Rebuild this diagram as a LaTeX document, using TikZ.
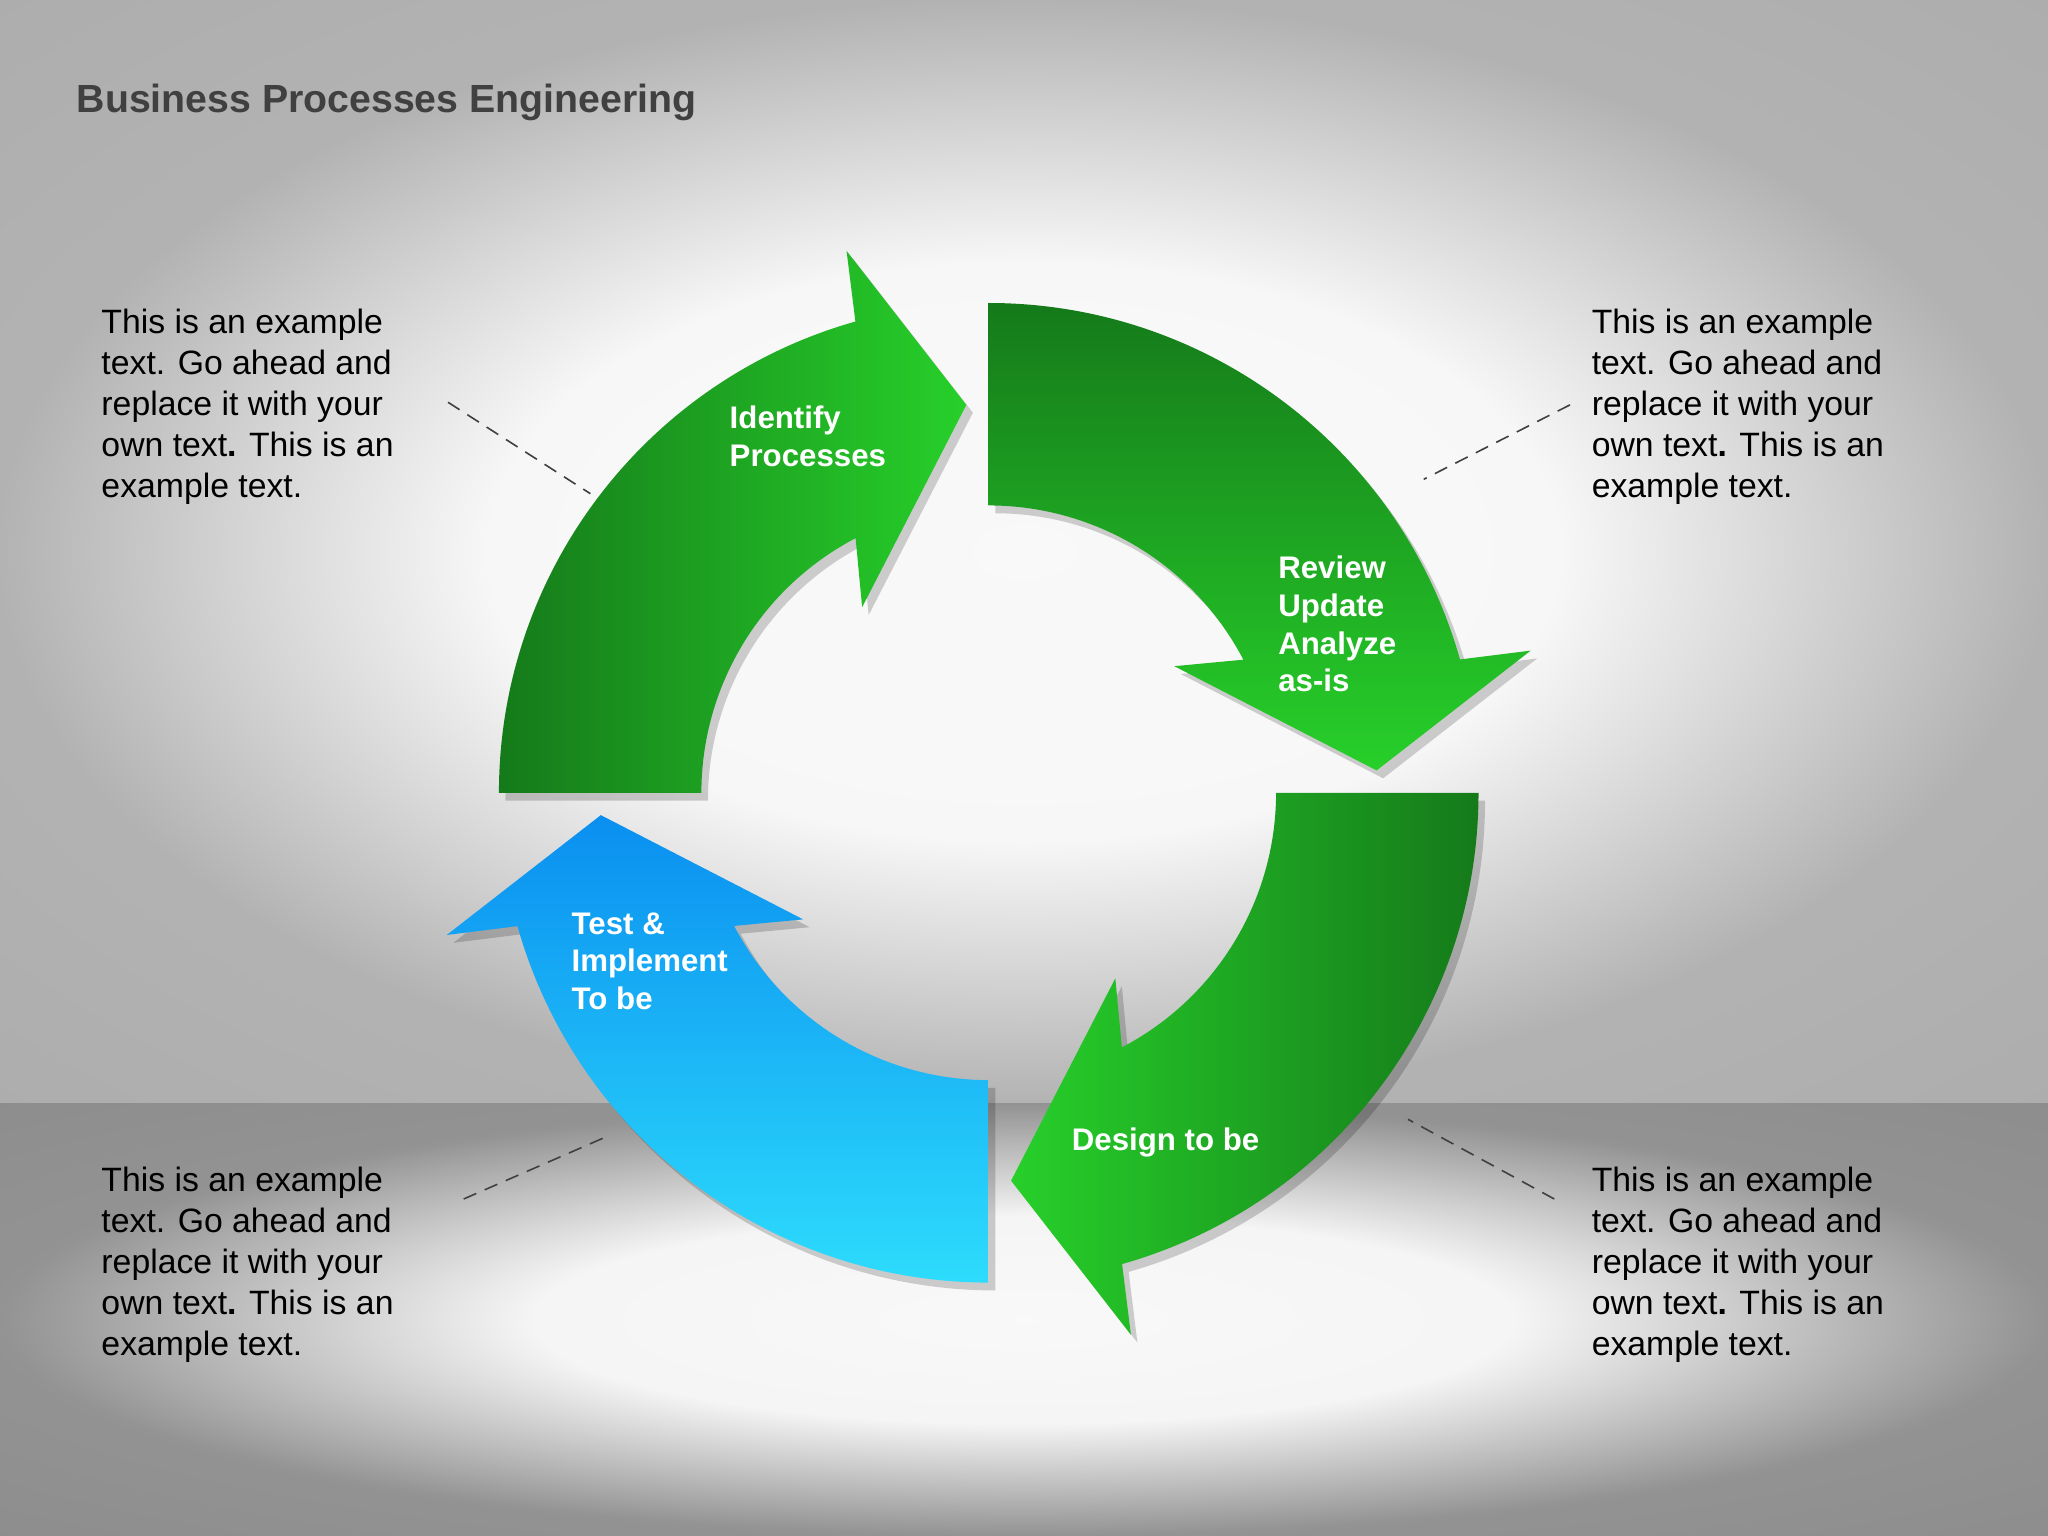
\documentclass[tikz,border=0pt]{standalone}
\usepackage{fontspec}
\setmainfont{Liberation Sans}
\usetikzlibrary{positioning}

\definecolor{gdark}{HTML}{157A1A}
\definecolor{glight}{HTML}{27D02A}
\definecolor{btop}{HTML}{0A8FF0}
\definecolor{bbot}{HTML}{2DDCFC}
\definecolor{titlegray}{HTML}{404040}

\pgfdeclareradialshading{upperglow}{\pgfpoint{0bp}{0bp}}{%
  color(0bp)=(white!95!gray); color(13bp)=(white!94!gray);
  color(25bp)=(gray!60); color(50bp)=(gray!70)}
\pgfdeclareradialshading{lowerglow}{\pgfpoint{0bp}{0bp}}{%
  color(0bp)=(white!95!gray); color(12bp)=(white!92!gray);
  color(25bp)=(gray!85); color(50bp)=(gray!95)}

\tikzset{%
  >=latex,
  steplabel/.style={text=white, font=\fontsize{6.8}{8.2}\selectfont\bfseries,
    align=left, anchor=west, inner sep=0pt},
  bodytext/.style={text=black, font=\fontsize{7.35}{8.9}\selectfont,
    align=left, anchor=north west, inner sep=0pt},
  leader/.style={densely dashed, line width=0.35pt, black!75}
}

% one arrow of the cycle, turned by #1 degrees
\newcommand{\cyclearrow}[1]{%
  ({180+#1}:375) arc[start angle={180+#1}, end angle={105.8+#1}, radius=375]
  -- ({104.7+#1}:429) -- ({93.3+#1}:297.5) -- ({124.3+#1}:172)
  -- ({117.6+#1}:220) arc[start angle={117.6+#1}, end angle={180+#1}, radius=220]
  -- cycle}

\begin{document}
\begin{tikzpicture}[x=0.01cm, y=0.01cm]
  % background
  \shade[shading=upperglow] (0,331) rectangle (1568,1176);
  \shade[shading=lowerglow] (0,0) rectangle (1568,331);
  \useasboundingbox (0,0) rectangle (1568,1176);

  \node[anchor=base west, inner sep=0pt, text=titlegray,
        font=\fontsize{8.55}{10}\selectfont\bfseries] (title) at (58,1090)
        {Business Processes Engineering};

  % shadows
  \foreach \o in {0,-90,-180,-270}
    \fill[black, opacity=0.18, shift={(762,563)}] \cyclearrow{\o};

  % arrows
  \shade[shift={(757,569)}, left color=gdark, right color=glight] \cyclearrow{0};
  \shade[shift={(757,569)}, top color=gdark, bottom color=glight] \cyclearrow{-90};
  \shade[shift={(757,569)}, right color=gdark, left color=glight] \cyclearrow{-180};
  \shade[shift={(757,569)}, top color=btop, bottom color=bbot] \cyclearrow{-270};

  \node[steplabel] (identify) at (558,842) {Identify\\Processes};
  \node[steplabel] (review) at (978,698) {Review\\Update\\Analyze\\as-is};
  \node[steplabel] (design) at (820,301) {Design to be};
  \node[steplabel] (test) at (437,440) {Test \&\\Implement\\To be};

  % side texts
  \node[bodytext] (textnw) at (77,940)
    {This is an example\\text. Go ahead and\\replace it with your\\own text\textbf{.} This is an\\example text.};
  \node[bodytext] (textne) at (1218,940)
    {This is an example\\text. Go ahead and\\replace it with your\\own text\textbf{.} This is an\\example text.};
  \node[bodytext] (textsw) at (77,283)
    {This is an example\\text. Go ahead and\\replace it with your\\own text\textbf{.} This is an\\example text.};
  \node[bodytext] (textse) at (1218,283)
    {This is an example\\text. Go ahead and\\replace it with your\\own text\textbf{.} This is an\\example text.};

  % leaders
  \coordinate (lnwa) at (343,868); \coordinate (lnwb) at (452,798);
  \coordinate (lnea) at (1202,866); \coordinate (lneb) at (1090,809);
  \coordinate (lswa) at (355,258); \coordinate (lswb) at (465,306);
  \coordinate (lsea) at (1190,258); \coordinate (lseb) at (1078,319);
  \draw[leader] (lnwa) -- (lnwb);
  \draw[leader] (lnea) -- (lneb);
  \draw[leader] (lswa) -- (lswb);
  \draw[leader] (lsea) -- (lseb);
\end{tikzpicture}
\end{document}
